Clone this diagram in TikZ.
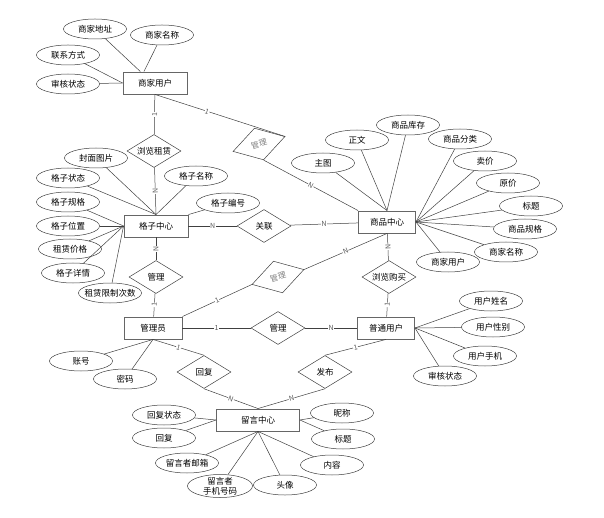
\documentclass[tikz,border=0pt]{standalone}
\usepackage{fontspec}
\setmainfont{Noto Sans CJK SC}
\usepackage{tikz}
\usetikzlibrary{shapes.geometric}
\tikzset{entity/.style={draw=black!60, line width=.9pt, minimum width=60pt, minimum height=22pt, inner sep=0pt}}
\tikzset{attr/.style={draw=black!75, line width=.5pt, ellipse, minimum width=63pt, minimum height=20pt, inner sep=0pt}}
\tikzset{rel/.style={draw=black!75, line width=.5pt, diamond, aspect=1.6, minimum width=54pt, minimum height=33pt, inner sep=0pt}}
\tikzset{grel/.style={rel, rotate=16, text=black!50, font=\fontsize{8}{9}\selectfont}}
\tikzset{link/.style={draw=black!75, line width=.5pt}}
\tikzset{card/.style={font=\fontsize{7}{7}\selectfont, text=black!65, fill=white, inner sep=.4pt, sloped, midway}}

\begin{document}
\begin{tikzpicture}[x=1pt, y=-1pt, font=\fontsize{8.5}{10}\selectfont]
\useasboundingbox (0,0) rectangle (604,518);
\node[entity, minimum width=64pt] (sjyh) at (155,83) {商家用户};
\node[entity, minimum width=64pt] (gzzx) at (156,226) {格子中心};
\node[entity, minimum width=57pt] (spzx) at (387,222) {商品中心};
\node[entity, minimum width=58pt] (gly) at (153,328) {管理员};
\node[entity, minimum width=57pt] (ptyh) at (386,328) {普通用户};
\node[entity, minimum width=83pt] (lyzx) at (258,420) {留言中心};
\node[rel] (lllz) at (154,151) {浏览租赁};
\node[grel] (gl1) at (259,144) {管理};
\node[rel] (guanl) at (264,226) {关联};
\node[rel] (gl2) at (156,277) {管理};
\node[grel] (gl4) at (278,277) {管理};
\node[rel] (llgm) at (389,277) {浏览购买};
\node[rel] (gl3) at (278,328) {管理};
\node[rel] (hf) at (204,372) {回复};
\node[rel] (fb) at (325,372) {发布};
\foreach \n/\x/\y/\t/\a in {sjdz/95/29/商家地址/sjyh.142, sjmc/162/35/商家名称/sjyh.134,
  lxfs/68/55/联系方式/sjyh.west, shzt/68/84/审核状态/sjyh.west,
  fmtp/96/158/封面图片/gzzx.north, gzzt/68/178/格子状态/gzzx.north, gzgg/68/202/格子规格/gzzx.west,
  gzwz/68/226/格子位置/gzzx.west, zljg/70/249/租赁价格/gzzx.west, gzxq/73/273/格子详情/gzzx.west,
  gzmc/196/176/格子名称/gzzx.north, gzbh/228/203/格子编号/gzzx.north east,
  zt/323/163/主图/spzx.north, zw/357/140/正文/spzx.north, spkc/408/125/商品库存/spzx.north,
  spfl/460/139/商品分类/spzx.east, mj/485/161/卖价/spzx.east, yj/508/183/原价/spzx.east,
  spbt/531/206/标题/spzx.east, spgg/525/229/商品规格/spzx.east, spsj/506/252/商家名称/spzx.east,
  spyh/448/262/商家用户/spzx.east,
  yhxm/491/301/用户姓名/ptyh.east, yhxb/493/327/用户性别/ptyh.east, yhsj/485/356/用户手机/ptyh.east,
  yhzt/445/376/审核状态/ptyh.east,
  zh/81/361/账号/gly.south, mm/125/379/密码/gly.south,
  hfzt/164/415/回复状态/lyzx.west, hfnr/164/438/回复/lyzx.west, lyyx/187/463/留言者邮箱/lyzx.south,
  tx/285/485/头像/lyzx.south, nr/332/465/内容/lyzx.south, lybt/343/439/标题/lyzx.east,
  nc/342/413/昵称/lyzx.east} {
 \node[attr] (\n) at (\x,\y) {\t};
 \draw[link] (\n) -- (\a);
}
\node[attr, inner xsep=-6pt] (zlcs) at (110,293) {租赁限制次数};
\draw[link] (zlcs) -- (gzzx.west);
\node[attr, inner ysep=-4pt, align=center, minimum width=65pt, minimum height=23pt] (lysj) at (220,486) {留言者\\手机号码};
\draw[link] (lysj) -- (lyzx.south);
\draw[link] (sjyh) -- node[card] (c1) {1} (lllz);
\draw[link] (lllz) -- node[card] (c2) {N} (gzzx.north);
\draw[link] (sjyh.south) -- node[card, pos=.4] (c3) {1} (gl1.east);
\draw[link] (gl1.south) -- node[card] (c4) {N} (spzx.north west);
\draw[link] (gzzx) -- node[card] (c5) {N} (guanl);
\draw[link] (guanl) -- node[card] (c6) {N} (spzx);
\draw[link] (gzzx) -- node[card] (c7) {N} (gl2);
\draw[link] (gl2) -- node[card] (c8) {1} (gly);
\draw[link] (spzx) -- node[card] (c9) {N} (llgm);
\draw[link] (llgm) -- node[card] (c10) {1} (ptyh);
\draw[link] (gly) -- node[card] (c11) {1} (gl3);
\draw[link] (gl3) -- node[card] (c12) {N} (ptyh);
\draw[link] (gly.north east) -- node[card] (c13) {1} (gl4.west);
\draw[link] (gl4.east) -- node[card] (c14) {N} (spzx.south);
\draw[link] (gly.south) -- node[card] (c15) {1} (hf.north);
\draw[link] (hf.south) -- node[card] (c16) {N} (lyzx.north);
\draw[link] (ptyh.south) -- node[card] (c17) {1} (fb.north);
\draw[link] (fb.south) -- node[card] (c18) {N} (lyzx.north);
\end{tikzpicture}
\end{document}
